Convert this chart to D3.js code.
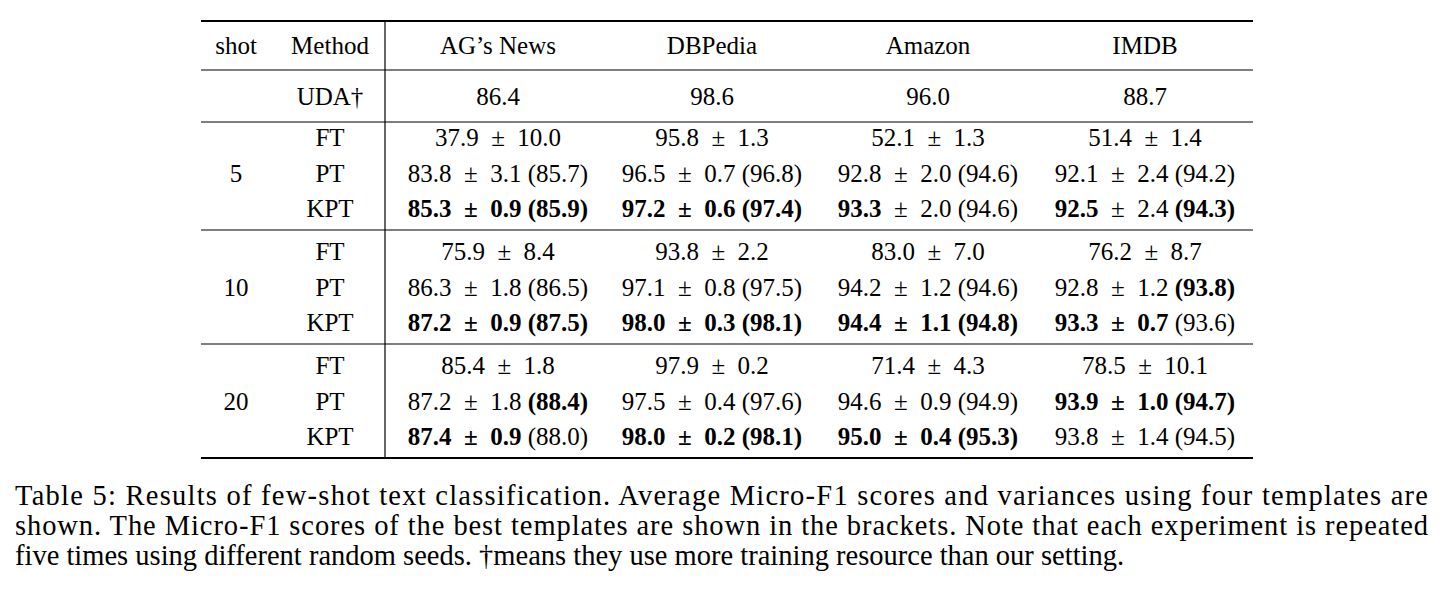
<!DOCTYPE html>
<html><head><meta charset="utf-8">
<script src="https://cdn.jsdelivr.net/npm/d3@7/dist/d3.min.js"></script>
<style>body{margin:0;background:#fff}</style></head>
<body><svg id="c" width="1444" height="594"></svg>
<script>
const headers = ["shot","Method","AG’s News","DBPedia","Amazon","IMDB"];
const datasets = ["AG’s News","DBPedia","Amazon","IMDB"];
const udaRow = ["86.4","98.6","96.0","88.7"];
// cells: "*...*" marks bold segments
const groups = [
 {shot:"5", rows:[
  ["FT",["37.9 ± 10.0","95.8 ± 1.3","52.1 ± 1.3","51.4 ± 1.4"]],
  ["PT",["83.8 ± 3.1 (85.7)","96.5 ± 0.7 (96.8)","92.8 ± 2.0 (94.6)","92.1 ± 2.4 (94.2)"]],
  ["KPT",["*85.3 ± 0.9 (85.9)*","*97.2 ± 0.6 (97.4)*","*93.3* ± 2.0 (94.6)","*92.5* ± 2.4 *(94.3)*"]]]},
 {shot:"10", rows:[
  ["FT",["75.9 ± 8.4","93.8 ± 2.2","83.0 ± 7.0","76.2 ± 8.7"]],
  ["PT",["86.3 ± 1.8 (86.5)","97.1 ± 0.8 (97.5)","94.2 ± 1.2 (94.6)","92.8 ± 1.2 *(93.8)*"]],
  ["KPT",["*87.2 ± 0.9 (87.5)*","*98.0 ± 0.3 (98.1)*","*94.4 ± 1.1 (94.8)*","*93.3 ± 0.7* (93.6)"]]]},
 {shot:"20", rows:[
  ["FT",["85.4 ± 1.8","97.9 ± 0.2","71.4 ± 4.3","78.5 ± 10.1"]],
  ["PT",["87.2 ± 1.8 *(88.4)*","97.5 ± 0.4 (97.6)","94.6 ± 0.9 (94.9)","*93.9 ± 1.0 (94.7)*"]],
  ["KPT",["*87.4 ± 0.9* (88.0)","*98.0 ± 0.2 (98.1)*","*95.0 ± 0.4 (95.3)*","93.8 ± 1.4 (94.5)"]]]}
];
const caption = [
 "Table 5: Results of few-shot text classification. Average Micro-F1 scores and variances using four templates are",
 "shown. The Micro-F1 scores of the best templates are shown in the brackets. Note that each experiment is repeated",
 "five times using different random seeds. †means they use more training resource than our setting."
];

const svg = d3.select("#c");
const F = "'Liberation Serif','Times New Roman',serif";
const x = d3.scaleOrdinal().domain(headers).range([236,330,498,712,928,1145]);
const L = 201, R = 1253;
function line(y,w){svg.append("line").attr("x1",L).attr("x2",R).attr("y1",y).attr("y2",y).attr("stroke","#000").attr("stroke-width",w);}
function cell(str,cx,y){
  const t = svg.append("text").attr("x",cx).attr("y",y).attr("text-anchor","middle")
    .attr("font-family",F).attr("font-size",25).attr("fill","#000");
  str.replace(/ ± /g,"\u2002±\u2002").split("*").forEach((s,i)=>{ if(s) t.append("tspan").attr("font-weight",i%2?"bold":"normal").text(s); });
}
line(21,2); line(70,1.2); line(122,1.2); line(230,1.2); line(344,1.2); line(458,2);
svg.append("line").attr("x1",385).attr("x2",385).attr("y1",21).attr("y2",458).attr("stroke","#000").attr("stroke-width",1.2);
headers.forEach(h=>cell(h,x(h),54));
cell("UDA†",x("Method"),105);
udaRow.forEach((v,i)=>cell(v,x(datasets[i]),105));
const rowY = d3.scaleLinear().domain([0,1]).range([0,35.5]);
groups.forEach((g,gi)=>{
  const y0 = 146 + gi*114;
  cell(g.shot,x("shot"),y0+rowY(1));
  g.rows.forEach((r,ri)=>{
    cell(r[0],x("Method"),y0+rowY(ri));
    r[1].forEach((v,i)=>cell(v,x(datasets[i]),y0+rowY(ri)));
  });
});
caption.forEach((c,i)=>{
  const t = svg.append("text").attr("x",15).attr("y",505+i*30).attr("font-family",F).attr("font-size",28.5).attr("fill","#000").text(c);
  if(i<2) t.attr("textLength",1413).attr("lengthAdjust","spacing");
});
</script></body></html>
